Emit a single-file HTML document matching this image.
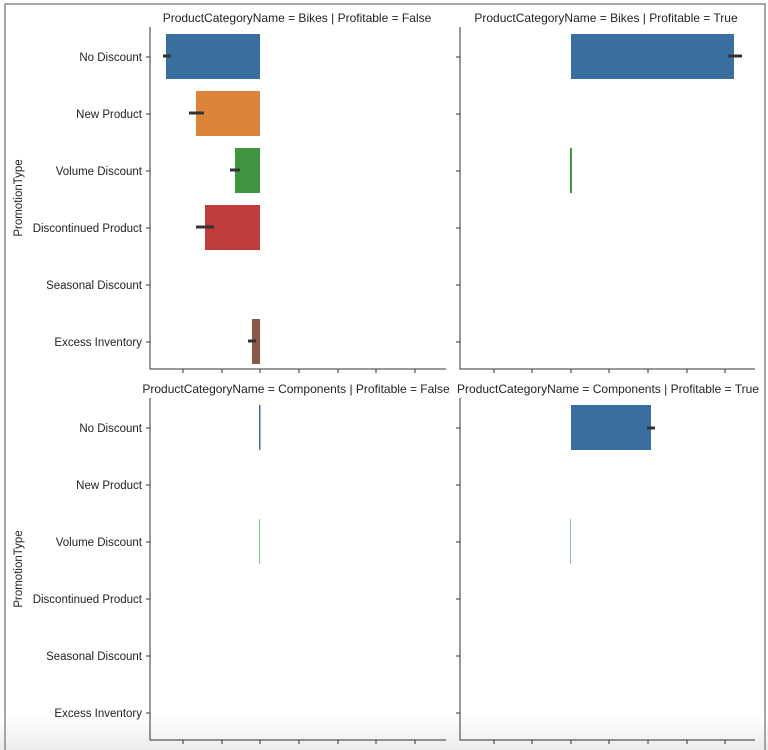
<!DOCTYPE html><html><head><style>body{margin:0;background:#fff}svg{display:block}</style></head><body>
<svg width="768" height="750" xmlns="http://www.w3.org/2000/svg" font-family="Liberation Sans, DejaVu Sans, sans-serif" font-size="11.5" fill="#222">
<defs><linearGradient id="g" x1="0" y1="0" x2="0" y2="1"><stop offset="0" stop-color="#fff"/><stop offset="1" stop-color="#ececec"/></linearGradient></defs>
<rect x="0" y="0" width="768" height="750" fill="#fff"/>
<rect x="0" y="715" width="768" height="35" fill="url(#g)"/>
<path d="M5 750V4H765V750" fill="none" stroke="#8a8a8a" stroke-width="1.5"/>
<g stroke="#333" stroke-width="1">
<path d="M150 27V369H446M460 27V369H755M150 398V740H446M460 398V740H755" fill="none"/>
<path d="M183 369v4M222 369v4M260 369v4M299 369v4M338 369v4M376 369v4M415 369v4M494 369v4M532 369v4M571 369v4M609 369v4M648 369v4M687 369v4M725 369v4"/>
<path d="M183 740v4M222 740v4M260 740v4M299 740v4M338 740v4M376 740v4M415 740v4M494 740v4M532 740v4M571 740v4M609 740v4M648 740v4M687 740v4M725 740v4"/>
<path d="M146 57h4M146 114h4M146 171h4M146 228h4M146 285h4M146 342h4M456 57h4M456 114h4M456 171h4M456 228h4M456 285h4M456 342h4"/>
<path d="M146 428h4M146 485h4M146 542h4M146 599h4M146 656h4M146 713h4M456 428h4M456 485h4M456 542h4M456 599h4M456 656h4M456 713h4"/>
</g>
<rect x="166" y="34" width="94" height="45" fill="#3a6e9e"/>
<rect x="196" y="91" width="64" height="45" fill="#dd8438"/>
<rect x="235" y="148" width="25" height="45" fill="#3f953f"/>
<rect x="205" y="205" width="55" height="45" fill="#c03c3c"/>
<rect x="252" y="319" width="8" height="45" fill="#87584a"/>
<rect x="571" y="34" width="163" height="45" fill="#3a6e9e"/>
<rect x="570" y="148" width="2" height="45" fill="#3f953f"/>
<rect x="259" y="405" width="1.5" height="45" fill="#3a6e9e"/>
<rect x="259" y="519" width="1" height="45" fill="#8fc48f"/>
<rect x="571" y="405" width="80" height="45" fill="#3a6e9e"/>
<rect x="570" y="519" width="1" height="45" fill="#8fc48f"/>
<g stroke="#333" stroke-width="3">
<path d="M163 56h8M189 113h15M230 170h10M196 227h18M248 341h8M728 56h14M647 428h8"/>
</g>
<g font-size="12" text-anchor="middle">
<text x="297" y="22">ProductCategoryName = Bikes | Profitable = False</text>
<text x="606" y="22">ProductCategoryName = Bikes | Profitable = True</text>
<text x="296" y="393">ProductCategoryName = Components | Profitable = False</text>
<text x="608" y="393">ProductCategoryName = Components | Profitable = True</text>
</g>
<g text-anchor="end">
<text x="142" y="61">No Discount</text><text x="142" y="118">New Product</text><text x="142" y="175">Volume Discount</text><text x="142" y="232">Discontinued Product</text><text x="142" y="289">Seasonal Discount</text><text x="142" y="346">Excess Inventory</text>
<text x="142" y="432">No Discount</text><text x="142" y="489">New Product</text><text x="142" y="546">Volume Discount</text><text x="142" y="603">Discontinued Product</text><text x="142" y="660">Seasonal Discount</text><text x="142" y="717">Excess Inventory</text>
</g>
<text transform="translate(22,198) rotate(-90)" text-anchor="middle">PromotionType</text>
<text transform="translate(22,569) rotate(-90)" text-anchor="middle">PromotionType</text>
</svg>
</body></html>
